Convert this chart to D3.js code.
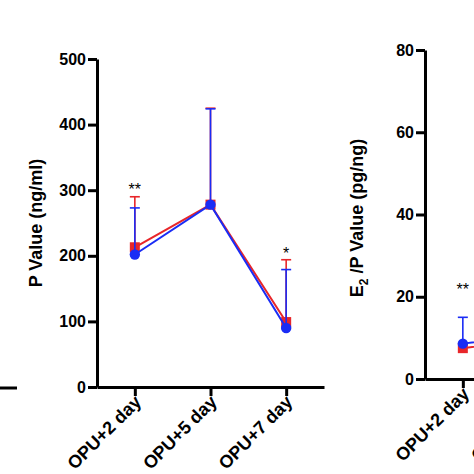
<!DOCTYPE html>
<html lang="en">
<head>
<meta charset="UTF-8">
<title>P value and E2/P value after OPU</title>
<script src="https://d3js.org/d3.v7.min.js"></script>
<style>
    body { margin: 0; background: #fff; }
    svg { display: block; font-family: "Liberation Sans", Arial, sans-serif; }
    .axis path, .axis line { stroke: #000; stroke-width: 3px; }
    .axis text { font-size: 16px; font-weight: bold; fill: #000; }
    .xaxis text { font-size: 18px; }
    .ylabel { font-size: 18px; font-weight: bold; fill: #000; }
    .star { font-size: 16px; fill: #000; text-anchor: middle; }
</style>
</head>
<body>
<script>
// categories
const days = ["OPU+2 day", "OPU+5 day", "OPU+7 day"];

// P value (ng/ml): mean and top of the error bar
const pRed = [213, 278, 99];
const pRedTop = [290, 425, 194];
const pBlue = [202, 278, 90];
const pBlueTop = [273, 424, 179];
const pTicks = [0, 100, 200, 300, 400, 500];
const pStars = ["**", "", "*"];
const pStarAt = [292, null, 195];

// E2/P value (pg/ng) - only the first day is inside the picture
const eRed = [7.5, 10, 9];
const eRedTop = [7.5, 10, 9];
const eBlue = [8.6, 11, 10];
const eBlueTop = [15, 11, 10];
const eTicks = [0, 20, 40, 60, 80];
const eStars = ["**", "", ""];
const eStarAt = [20.5, null, null];

const red = "#e8262a";
const blue = "#1a2cf5";

const width = 474, height = 474;

const svg = d3.select("body").append("svg")
    .attr("width", width)
    .attr("height", height);

// end of the x axis of the panel to the left (cut off)
svg.append("line")
    .attr("x1", 0).attr("x2", 17)
    .attr("y1", 388).attr("y2", 388)
    .attr("stroke", "#000").attr("stroke-width", 3);

function panel(opt) {
    const x = d3.scalePoint().domain(days).range([opt.left, opt.left + 227]).padding(0.5);
    const y = d3.scaleLinear().domain([0, opt.max]).range([opt.bottom, opt.top]);

    const g = svg.append("g");

    g.append("g")
        .attr("class", "axis xaxis")
        .attr("transform", `translate(0,${opt.bottom})`)
        .call(d3.axisBottom(x).tickSize(9).tickSizeOuter(0))
        .selectAll("text")
        .attr("x", 0).attr("y", 0).attr("dy", 0)
        .attr("transform", "translate(7,16) rotate(-45)")
        .style("text-anchor", "end");

    g.append("g")
        .attr("class", "axis")
        .attr("transform", `translate(${opt.left},0)`)
        .call(d3.axisLeft(y).tickValues(opt.ticks).tickSize(9).tickPadding(2).tickSizeOuter(0));

    const series = [
        { vals: opt.red, tops: opt.redTop, color: red, shape: "square" },
        { vals: opt.blue, tops: opt.blueTop, color: blue, shape: "circle" }
    ];

    series.forEach(s => {
        const pts = days.map((d, i) => ({ day: d, v: s.vals[i], top: s.tops[i] }));

        g.append("path")
            .datum(pts)
            .attr("fill", "none")
            .attr("stroke", s.color)
            .attr("stroke-width", 2)
            .attr("d", d3.line().x(d => x(d.day)).y(d => y(d.v)));

        const bars = g.append("g")
            .selectAll("g")
            .data(pts.filter(d => d.top > d.v))
            .join("g")
            .attr("stroke", s.color)
            .attr("stroke-width", 1.6);
        bars.append("line")
            .attr("x1", d => x(d.day)).attr("x2", d => x(d.day))
            .attr("y1", d => y(d.v)).attr("y2", d => y(d.top));
        bars.append("line")
            .attr("x1", d => x(d.day) - 5).attr("x2", d => x(d.day) + 5)
            .attr("y1", d => y(d.top)).attr("y2", d => y(d.top));

        if (s.shape === "square") {
            g.append("g").selectAll("rect")
                .data(pts)
                .join("rect")
                .attr("x", d => x(d.day) - 5)
                .attr("y", d => y(d.v) - 5)
                .attr("width", 10).attr("height", 10)
                .attr("fill", s.color);
        } else {
            g.append("g").selectAll("circle")
                .data(pts)
                .join("circle")
                .attr("cx", d => x(d.day))
                .attr("cy", d => y(d.v))
                .attr("r", 5.2)
                .attr("fill", s.color);
        }
    });

    // significance marks
    g.append("g").selectAll("text")
        .data(days.map((d, i) => ({ day: d, s: opt.stars[i], at: opt.starAt[i] })).filter(d => d.s))
        .join("text")
        .attr("class", "star")
        .attr("x", d => x(d.day))
        .attr("y", d => y(d.at))
        .text(d => d.s);

    return { x, y, g };
}

// P value panel
const p = panel({
    left: 97, top: 59, bottom: 387, max: 500, ticks: pTicks,
    red: pRed, redTop: pRedTop, blue: pBlue, blueTop: pBlueTop,
    stars: pStars, starAt: pStarAt
});
p.g.append("text")
    .attr("class", "ylabel")
    .attr("text-anchor", "middle")
    .attr("transform", "translate(42,223) rotate(-90)")
    .text("P Value (ng/ml)");

// E2/P panel
const e = panel({
    left: 425, top: 50, bottom: 379, max: 80, ticks: eTicks,
    red: eRed, redTop: eRedTop, blue: eBlue, blueTop: eBlueTop,
    stars: eStars, starAt: eStarAt
});
const lab = e.g.append("text")
    .attr("class", "ylabel")
    .attr("text-anchor", "middle")
    .attr("transform", "translate(363,218) rotate(-90)");
lab.append("tspan").text("E");
lab.append("tspan").attr("font-size", 12).attr("dy", 5).text("2");
lab.append("tspan").attr("dy", -5).text(" /P Value (pg/ng)");
</script>
</body>
</html>
